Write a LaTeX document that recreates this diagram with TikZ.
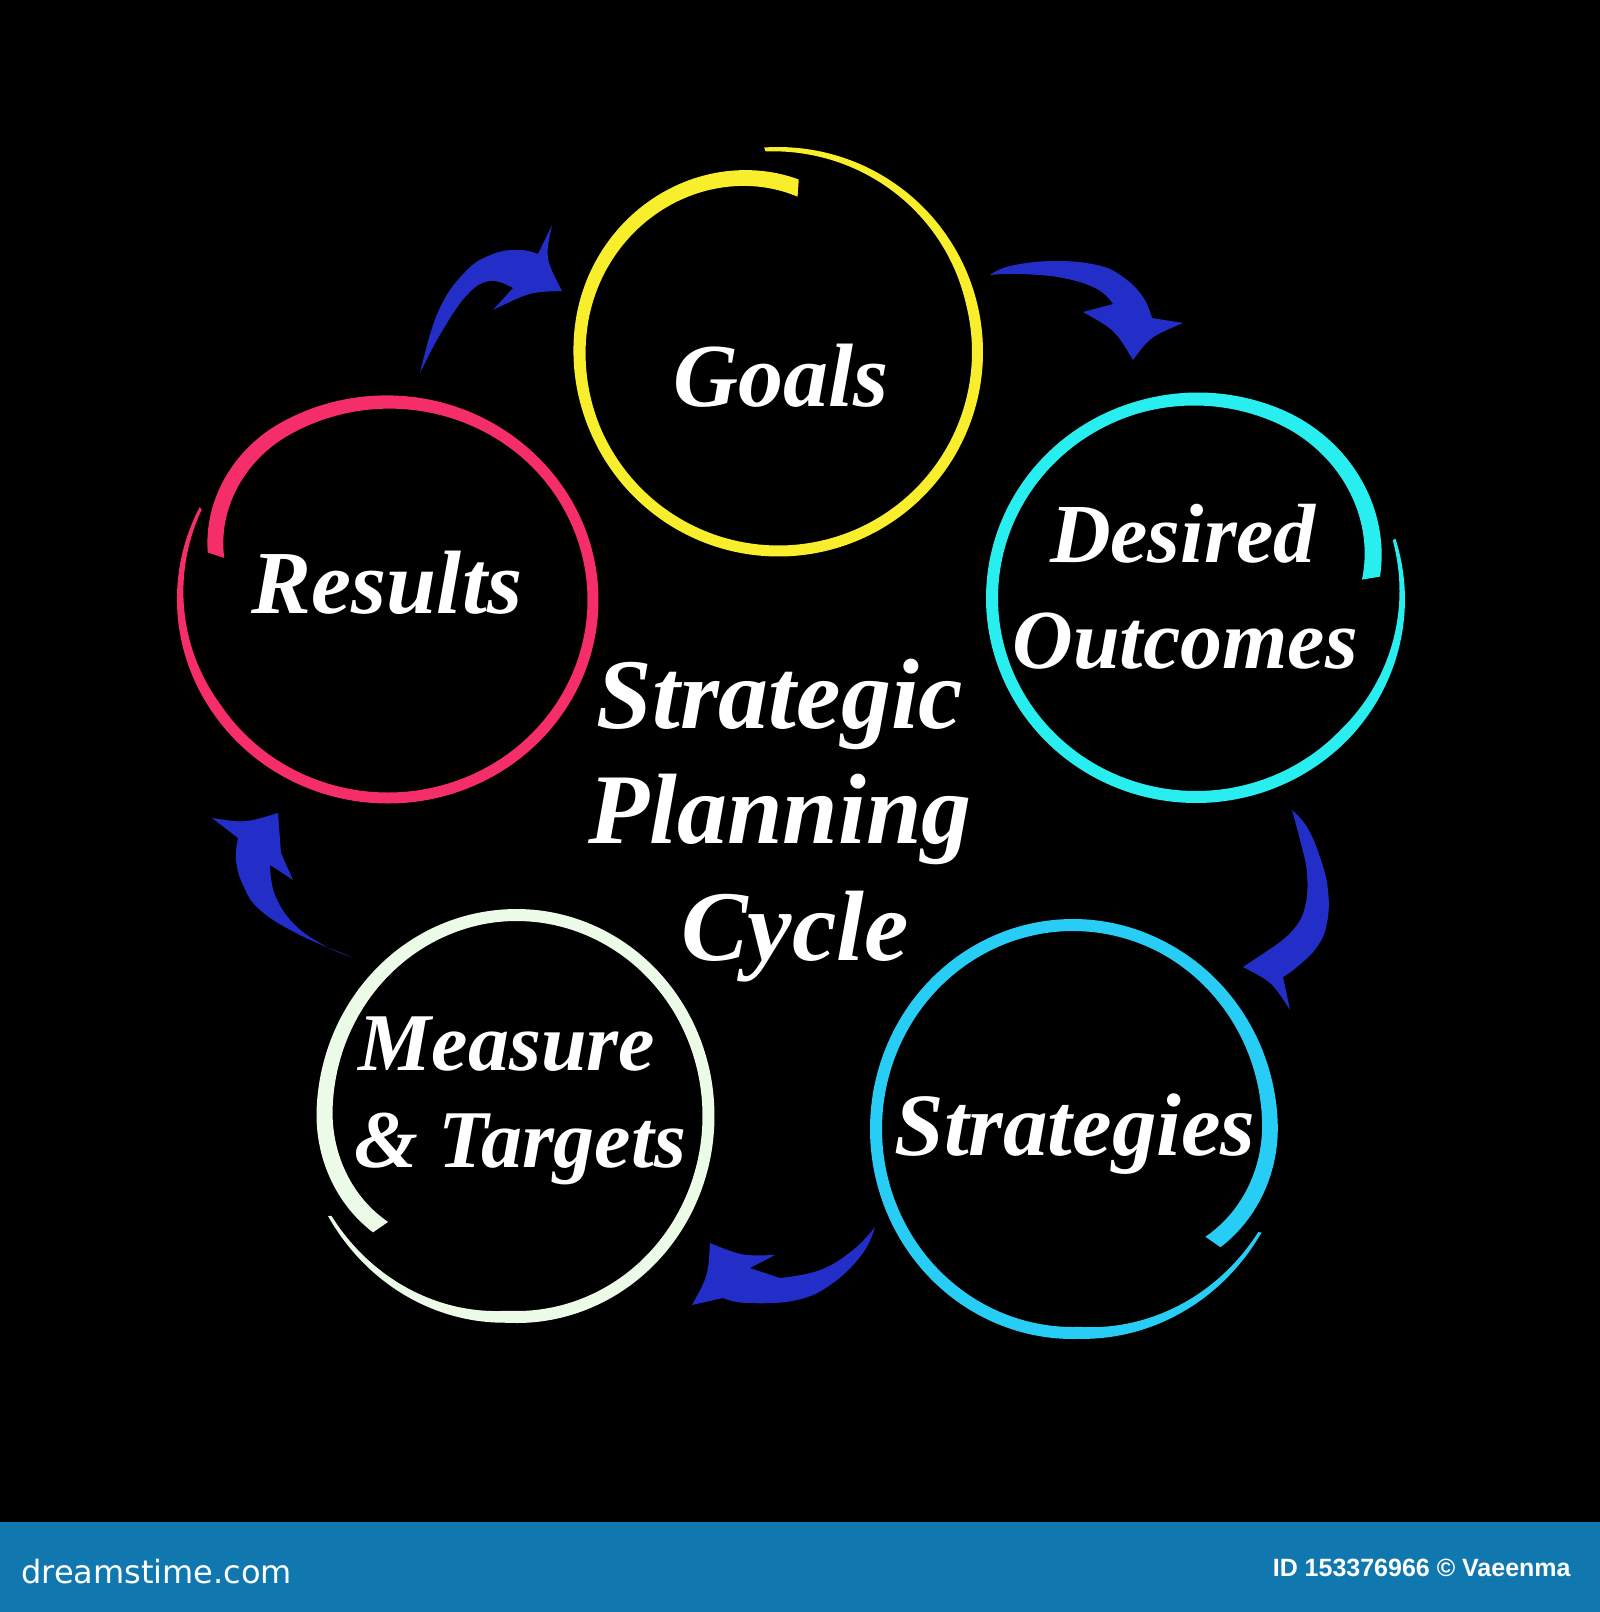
\documentclass[tikz,border=0pt]{standalone}
\usepackage{fontspec}
\setmainfont{Liberation Serif}
\newfontfamily\barfont{Liberation Sans}
\newfontfamily\logofont{DejaVu Sans}
\definecolor{cyel}{RGB}{248,238,44}
\definecolor{cpink}{RGB}{245,45,105}
\definecolor{ccyan}{RGB}{40,238,240}
\definecolor{csky}{RGB}{40,205,245}
\definecolor{cpale}{RGB}{236,250,232}
\definecolor{carrow}{RGB}{35,45,200}
\definecolor{cbar}{RGB}{16,119,175}
\pgfkeys{/ring/.is family, /ring,
 cx/.store in=\rcx, cy/.store in=\rcy, rx/.store in=\rrx, ry/.store in=\rry,
 a/.store in=\rthA, b/.store in=\rthB, out/.store in=\rout, Lout/.store in=\rLout,
 in/.store in=\rin, Lin/.store in=\rLin, Lw/.store in=\rLw,
 ws/.store in=\rws, wm/.store in=\rwm, we/.store in=\rwe}
\def\rang{((\rthA)+((\rthB)-(\rthA))*\s)}
\def\rsp{abs((\rthB)-(\rthA))}
\def\rS{max(0,1-\s*\rsp/\rLout)}
\def\rE{max(0,1-(1-\s)*\rsp/\rLin)}
\def\rEw{max(0,1-(1-\s)*\rsp/\rLw)}
\def\roff{(\rout*\rS-\rin*\rE*\rE)}
\def\rwid{((\rwm+(\rwe-\rwm)*\rEw)*(1-(1-\rws/\rwm)*\rS))}
\newcommand\ring[2]{%
 \pgfkeys{/ring,#1}%
 \fill[#2] plot[domain=0:1,samples=300,variable=\s]
   ({\rcx+(\rrx+\roff+\rwid/2)*cos(\rang)},{\rcy+(\rry+\roff+\rwid/2)*sin(\rang)})
   -- plot[domain=1:0,samples=300,variable=\s]
   ({\rcx+(\rrx+\roff-\rwid/2)*cos(\rang)},{\rcy+(\rry+\roff-\rwid/2)*sin(\rang)})
   -- cycle;}
\begin{document}
\begin{tikzpicture}[x=0.5pt,y=-0.5pt,
  lbl/.style={text=white,anchor=base,inner sep=0pt,
    font=\fontsize{#1}{#1}\selectfont\bfseries\itshape},
  arr/.style={fill=carrow}]
\fill[black] (0,0) rectangle (1600,1612);
\useasboundingbox (0,0) rectangle (1600,1612);

% circles
\ring{cx=778.5,cy=352,rx=199,ry=199,a=266,b=637,out=4,Lout=80,in=34,Lin=90,Lw=120,ws=4,wm=11,we=17}{cyel}
\ring{cx=388,cy=600,rx=205,ry=198,a=207,b=-165,out=5,Lout=60,in=27,Lin=45,Lw=120,ws=3,wm=11,we=17}{cpink}
\ring{cx=1196,cy=598,rx=204,ry=199,a=-17,b=353.5,out=3,Lout=60,in=28,Lin=60,Lw=100,ws=3,wm=12,we=18}{ccyan}
\ring{cx=1073,cy=1129,rx=197,ry=204,a=28,b=398,out=15,Lout=60,in=20,Lin=40,Lw=100,ws=3,wm=12,we=18}{csky}
\ring{cx=516.5,cy=1116,rx=192,ry=201,a=153,b=-218,out=18,Lout=60,in=20,Lin=40,Lw=120,ws=3,wm=12,we=18}{cpale}

% arrows
\fill[arr] plot[smooth,tension=0.7] coordinates {(420,373) (438,312) (465,272) (493,254) (520,250) (538,254)}
  -- (552,225) .. controls (545,258) .. (562,291) .. controls (530,292) .. (493,310)
  -- plot[smooth,tension=0.7] coordinates {(513,288) (490,281) (467,295) (441,333) (420,373)} -- cycle;
\fill[arr] plot[smooth,tension=0.7] coordinates {(990,275) (1010,266) (1053,261) (1097,265) (1123,277) (1143,297) (1152,318)}
  -- (1183,323) .. controls (1150,337) .. (1133,360) .. controls (1115,330) .. (1083,312)
  -- plot[smooth,tension=0.7] coordinates {(1113,304) (1097,289) (1063,278) (1020,274) (990,275)} -- cycle;
\fill[arr] plot[smooth,tension=0.7] coordinates {(1292,810) (1307,827) (1320,857) (1328,890) (1327,923) (1317,947) (1297,967) (1283,977)}
  -- (1290,1010) .. controls (1272,982) .. (1243,967)
  -- plot[smooth,tension=0.7] coordinates {(1273,947) (1293,930) (1305,907) (1307,873) (1300,840) (1292,810)} -- cycle;
\fill[arr] plot[smooth,tension=0.7] coordinates {(875,1227) (863,1253) (833,1283) (797,1300) (747,1303) (723,1298)}
  -- (692,1305) .. controls (708,1276) .. (710,1243) .. controls (742,1256) .. (775,1255) -- (750,1268)
  -- plot[smooth,tension=0.7] coordinates {(780,1278) (820,1270) (853,1250) (875,1227)} -- cycle;
\fill[arr] plot[smooth,tension=0.7] coordinates {(352,957) (327,947) (295,925) (275,895) (270,865)}
  -- (293,880) -- (281,853) -- (278,813) .. controls (245,823) .. (212,818)
  -- plot[smooth,tension=0.7] coordinates {(238,838) (236,860) (243,885) (260,910) (300,935) (352,957)} -- cycle;

% labels
\node[lbl=45] (goals) at (781,406) {Goals};
\node[lbl=45] (results) at (387,613) {Results};
\node[lbl=42] (desired) at (1183,562) {Desired};
\node[lbl=42] (outcomes) at (1185,668) {Outcomes};
\node[lbl=50] (title1) at (780,728) {Strategic};
\node[lbl=50] (title2) at (780,843) {Planning};
\node[lbl=50] (title3) at (795,960) {Cycle};
\node[lbl=41] (measure) at (507,1070) {Measure};
\node[lbl=41] (targets) at (520,1167) {\& Targets};
\node[lbl=44.5] (strategies) at (1075,1155) {Strategies};

% bottom bar
\fill[cbar] (0,1522) rectangle (1600,1612);
\node[anchor=west,text=white,inner sep=0pt,font=\logofont\fontsize{16}{16}\selectfont] (logo) at (21,1572) {dreamstime.com};
\node[anchor=east,text=white,inner sep=0pt,font=\barfont\bfseries\fontsize{12.5}{12.5}\selectfont] (credit) at (1571,1568) {ID 153376966 © Vaeenma};
\end{tikzpicture}
\end{document}
